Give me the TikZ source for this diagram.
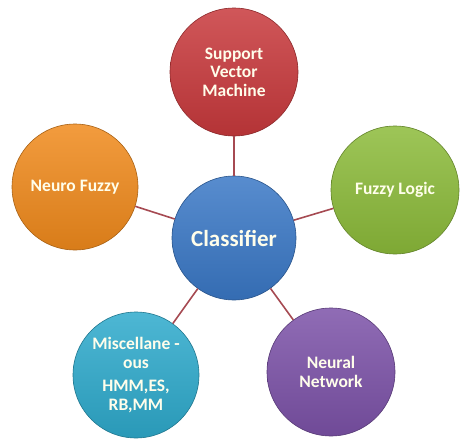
\documentclass[tikz,border=0pt]{standalone}
\usepackage{fontspec}
\setmainfont{Carlito}
\definecolor{svmred}{HTML}{C8393C}
\definecolor{nfyorange}{HTML}{F08A1C}
\definecolor{flgreen}{HTML}{8CBB3A}
\definecolor{clsblue}{HTML}{3A78C6}
\definecolor{misccyan}{HTML}{2EAACC}
\definecolor{nnpurple}{HTML}{7C52A8}
\definecolor{linkred}{HTML}{A64A52}

\begin{document}
\begin{tikzpicture}[x=1pt, y=-1pt,
    bubble/.style={circle, minimum size=126pt, inner sep=0pt, align=center,
        font=\fontsize{17.5}{18.5}\selectfont\bfseries, text=white!92!yellow,
        top color=#1!85!white, bottom color=#1!90!black, draw=#1!70!black, line width=0.6pt},
    link/.style={draw=linkred, line width=1.6pt}]

\useasboundingbox (0,0) rectangle (474,439);

\node[bubble=clsblue, minimum size=124pt, font=\fontsize{23}{24}\selectfont\bfseries] (cls) at (234,238) {Classifier};
\node[bubble=svmred, minimum size=128pt] (svm) at (234,72) {Support\\Vector\\Machine};
\node[bubble=nfyorange] (nfy) at (75,187) {Neuro Fuzzy};
\node[bubble=flgreen, minimum size=128pt] (fl) at (395,190) {Fuzzy Logic};
\node[bubble=misccyan] (misc) at (136,375) {Miscellane -\\ous\\[5pt]HMM,ES,\\RB,MM};
\node[bubble=nnpurple, minimum size=128pt] (nn) at (331,372) {Neural\\Network};

% links from the centre
\draw[link] (cls) -- (svm);
\draw[link] (cls) -- (nfy);
\draw[link] (cls) -- (fl);
\draw[link] (cls) -- (misc);
\draw[link] (cls) -- (nn);
\end{tikzpicture}
\end{document}
